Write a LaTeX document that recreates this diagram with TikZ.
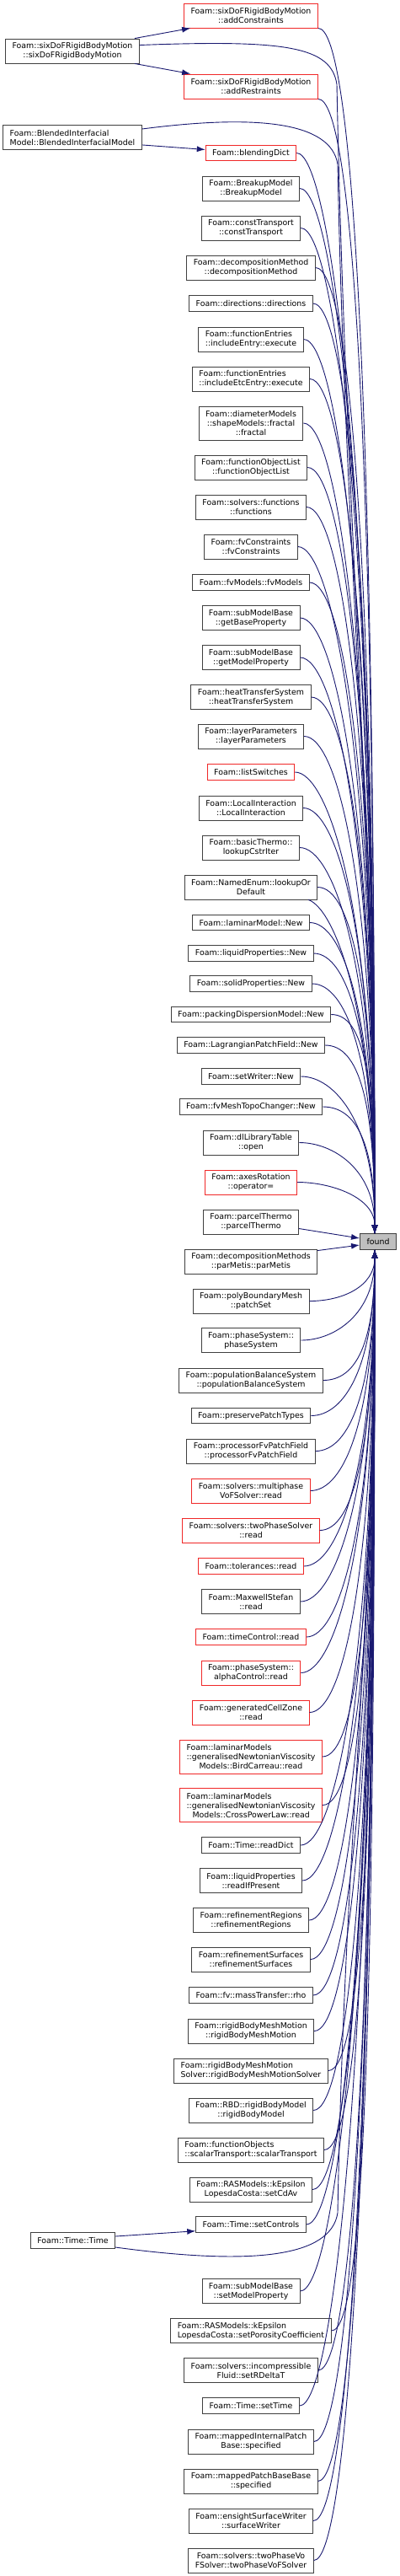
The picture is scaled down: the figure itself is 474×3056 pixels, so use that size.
\documentclass[tikz,border=0pt]{standalone}
\usepackage{fontspec}
\setmainfont{DejaVu Sans}
\usetikzlibrary{calc,arrows.meta}

\definecolor{edgeblue}{RGB}{25,25,112}
\definecolor{boxgray}{RGB}{64,64,64}
\definecolor{truncred}{RGB}{240,40,40}
\definecolor{foundgray}{RGB}{191,191,191}

\begin{document}
\begin{tikzpicture}[x=1pt,y=-1pt,
 fnbox/.style={draw=boxgray,line width=0.9pt,fill=white,inner xsep=8pt,inner ysep=1pt,minimum height=18.5pt,align=center,font=\fontsize{9.4}{11}\selectfont},
 fnbox2/.style={fnbox,minimum height=29pt},
 fnbox3/.style={fnbox,minimum height=40pt},
 trunc/.style={draw=truncred},
 lalign/.style={align=left},
 callarrow/.style={draw=edgeblue,line width=0.9pt,-{Latex[length=10pt,width=7pt]}}]

\useasboundingbox (0,0) rectangle (474,3056);

% callers on the left
\node[fnbox2] (ctor) at (86,60.5) {Foam::sixDoFRigidBodyMotion\\::sixDoFRigidBodyMotion};
\node[fnbox2,lalign] (blended) at (86,163) {Foam::BlendedInterfacial\\Model::BlendedInterfacialModel};
\node[fnbox] (time) at (86.5,2658) {Foam::Time::Time};

% the function itself
\node[fnbox,fill=foundgray] (found) at (449,1473) {found};
\coordinate (fN) at ([xshift=-4]found.north);
\coordinate (fS) at ([xshift=-4]found.south);

% direct callers
\node[fnbox2,trunc] (addc) at (298,18.5) {Foam::sixDoFRigidBodyMotion\\::addConstraints};
\node[fnbox2,trunc] (addr) at (298,102.5) {Foam::sixDoFRigidBodyMotion\\::addRestraints};
\node[fnbox,trunc] (bdict) at (298,181.5) {Foam::blendingDict};
\node[fnbox2] (breakup) at (298,223.5) {Foam::BreakupModel\\::BreakupModel};
\node[fnbox2] (consttr) at (298,270.5) {Foam::constTransport\\::constTransport};
\node[fnbox2] (decomp) at (298,317.5) {Foam::decompositionMethod\\::decompositionMethod};
\node[fnbox] (dirs) at (298,360) {Foam::directions::directions};
\node[fnbox2,lalign] (incl) at (298,402.5) {Foam::functionEntries\\::includeEntry::execute};
\node[fnbox2,lalign] (incletc) at (298,449.5) {Foam::functionEntries\\::includeEtcEntry::execute};
\node[fnbox3] (fractal) at (298,502) {Foam::diameterModels\\::shapeModels::fractal\\::fractal};
\node[fnbox2] (fol) at (298,554.5) {Foam::functionObjectList\\::functionObjectList};
\node[fnbox2] (funcs) at (298,601.5) {Foam::solvers::functions\\::functions};
\node[fnbox2] (fvc) at (298,648.5) {Foam::fvConstraints\\::fvConstraints};
\node[fnbox] (fvm) at (298,691) {Foam::fvModels::fvModels};
\node[fnbox2] (getbase) at (298,733) {Foam::subModelBase\\::getBaseProperty};
\node[fnbox2] (getmodel) at (298,780) {Foam::subModelBase\\::getModelProperty};
\node[fnbox2] (heat) at (298,827) {Foam::heatTransferSystem\\::heatTransferSystem};
\node[fnbox2] (layer) at (298,873.5) {Foam::layerParameters\\::layerParameters};
\node[fnbox,trunc] (lsw) at (298,916) {Foam::listSwitches};
\node[fnbox2] (local) at (298,958.5) {Foam::LocalInteraction\\::LocalInteraction};
\node[fnbox2] (cstr) at (298,1005.5) {Foam::basicThermo::\\lookupCstrIter};
\node[fnbox2] (named) at (298,1052.5) {Foam::NamedEnum::lookupOr\\Default};
\node[fnbox] (lamnew) at (298,1094.5) {Foam::laminarModel::New};
\node[fnbox] (liqnew) at (298,1131) {Foam::liquidProperties::New};
\node[fnbox] (solnew) at (298,1167) {Foam::solidProperties::New};
\node[fnbox] (packnew) at (298,1203.5) {Foam::packingDispersionModel::New};
\node[fnbox] (lagnew) at (298,1240) {Foam::LagrangianPatchField::New};
\node[fnbox] (setwnew) at (298,1277) {Foam::setWriter::New};
\node[fnbox] (topo) at (298,1313) {Foam::fvMeshTopoChanger::New};
\node[fnbox2] (dlopen) at (298,1355.5) {Foam::dlLibraryTable\\::open};
\node[fnbox2,trunc] (axes) at (298,1402.5) {Foam::axesRotation\\::operator=};
\node[fnbox2] (parcel) at (298,1449.5) {Foam::parcelThermo\\::parcelThermo};
\node[fnbox2] (parmetis) at (298,1496.5) {Foam::decompositionMethods\\::parMetis::parMetis};
\node[fnbox2] (patchset) at (298,1543.5) {Foam::polyBoundaryMesh\\::patchSet};
\node[fnbox2] (phasesys) at (298,1590) {Foam::phaseSystem::\\phaseSystem};
\node[fnbox2] (popbal) at (298,1637.5) {Foam::populationBalanceSystem\\::populationBalanceSystem};
\node[fnbox] (preserve) at (298,1679.5) {Foam::preservePatchTypes};
\node[fnbox2] (procfv) at (298,1721.5) {Foam::processorFvPatchField\\::processorFvPatchField};
\node[fnbox2,trunc] (mpread) at (298,1768.5) {Foam::solvers::multiphase\\VoFSolver::read};
\node[fnbox2,trunc] (tpread) at (298,1815.5) {Foam::solvers::twoPhaseSolver\\::read};
\node[fnbox,trunc] (tolread) at (298,1858) {Foam::tolerances::read};
\node[fnbox2] (msread) at (298,1900) {Foam::MaxwellStefan\\::read};
\node[fnbox,trunc] (tcread) at (298,1942) {Foam::timeControl::read};
\node[fnbox2,trunc] (acread) at (298,1984.5) {Foam::phaseSystem::\\alphaControl::read};
\node[fnbox2,trunc] (gczread) at (298,2031.5) {Foam::generatedCellZone\\::read};
\node[fnbox3,trunc,lalign] (bcread) at (298,2084) {Foam::laminarModels\\::generalisedNewtonianViscosity\\\hspace*{15pt}Models::BirdCarreau::read};
\node[fnbox3,trunc,lalign] (cplread) at (298,2141.5) {Foam::laminarModels\\::generalisedNewtonianViscosity\\\hspace*{7pt}Models::CrossPowerLaw::read};
\node[fnbox] (readdict) at (298,2189) {Foam::Time::readDict};
\node[fnbox2] (rip) at (298,2231) {Foam::liquidProperties\\::readIfPresent};
\node[fnbox2] (refreg) at (298,2278) {Foam::refinementRegions\\::refinementRegions};
\node[fnbox2] (refsurf) at (298,2324.5) {Foam::refinementSurfaces\\::refinementSurfaces};
\node[fnbox] (rho) at (298,2367) {Foam::fv::massTransfer::rho};
\node[fnbox2] (rbmm) at (298,2409.5) {Foam::rigidBodyMeshMotion\\::rigidBodyMeshMotion};
\node[fnbox2,lalign] (rbmms) at (298,2456.5) {Foam::rigidBodyMeshMotion\\Solver::rigidBodyMeshMotionSolver};
\node[fnbox2] (rbd) at (298,2503.5) {Foam::RBD::rigidBodyModel\\::rigidBodyModel};
\node[fnbox2,lalign] (scalar) at (298,2550.5) {Foam::functionObjects\\::scalarTransport::scalarTransport};
\node[fnbox2] (cdav) at (298,2597.5) {Foam::RASModels::kEpsilon\\LopesdaCosta::setCdAv};
\node[fnbox] (setc) at (298,2639) {Foam::Time::setControls};
\node[fnbox2] (setmodel) at (298,2718) {Foam::subModelBase\\::setModelProperty};
\node[fnbox2,lalign] (poros) at (298,2765) {Foam::RASModels::kEpsilon\\LopesdaCosta::setPorosityCoefficient};
\node[fnbox2] (rdeltat) at (298,2812) {Foam::solvers::incompressible\\Fluid::setRDeltaT};
\node[fnbox] (settime) at (298,2854) {Foam::Time::setTime};
\node[fnbox2] (mips) at (298,2896.5) {Foam::mappedInternalPatch\\Base::specified};
\node[fnbox2] (mpbb) at (298,2943.5) {Foam::mappedPatchBaseBase\\::specified};
\node[fnbox2] (ensight) at (298,2990.5) {Foam::ensightSurfaceWriter\\::surfaceWriter};
\node[fnbox2] (tpvof) at (298,3037.5) {Foam::solvers::twoPhaseVo\\FSolver::twoPhaseVoFSolver};

% calls from the left column
\draw[callarrow] ([xshift=-6]ctor.north east) -- ([xshift=8]addc.south west);
\draw[callarrow] ([xshift=-6]ctor.south east) -- ([xshift=8]addr.north west);
\draw[callarrow] ([yshift=6]blended.south east) -- ([yshift=4]bdict.west);
\draw[callarrow] ([yshift=5]time.east) -- ([yshift=2]setc.south west);
\draw[callarrow] ([yshift=7]ctor.east) .. controls (340,47) and (393,55) .. (400,100) .. controls (410,600) and (445,1000) .. (fN);
\draw[callarrow] ([yshift=10]blended.east) .. controls (300,136) and (393,143) .. (401,195) .. controls (410,650) and (445,1000) .. (fN);
\draw[callarrow] ([yshift=-8]time.east) .. controls (300,2688) and (393,2678) .. (401,2625) .. controls (410,2150) and (445,1950) .. (fS);

% calls into found from above
\draw[callarrow] (addc.south east) .. controls +(40,0) and +(0,-1012) .. (fN);
\draw[callarrow] (addr.south east) .. controls +(40,0) and +(0,-953) .. (fN);
\draw[callarrow] (bdict.east) .. controls +(40,0) and +(0,-898) .. (fN);
\draw[callarrow] (breakup.east) .. controls +(40,0) and +(0,-868) .. (fN);
\draw[callarrow] (consttr.east) .. controls +(40,0) and +(0,-835) .. (fN);
\draw[callarrow] (decomp.east) .. controls +(40,0) and +(0,-803) .. (fN);
\draw[callarrow] (dirs.east) .. controls +(40,0) and +(0,-773) .. (fN);
\draw[callarrow] (incl.east) .. controls +(40,0) and +(0,-743) .. (fN);
\draw[callarrow] (incletc.east) .. controls +(40,0) and +(0,-710) .. (fN);
\draw[callarrow] (fractal.east) .. controls +(40,0) and +(0,-673) .. (fN);
\draw[callarrow] (fol.east) .. controls +(40,0) and +(0,-637) .. (fN);
\draw[callarrow] (funcs.east) .. controls +(40,0) and +(0,-604) .. (fN);
\draw[callarrow] (fvc.east) .. controls +(40,0) and +(0,-571) .. (fN);
\draw[callarrow] (fvm.east) .. controls +(40,0) and +(0,-541) .. (fN);
\draw[callarrow] (getbase.east) .. controls +(40,0) and +(0,-512) .. (fN);
\draw[callarrow] (getmodel.east) .. controls +(40,0) and +(0,-479) .. (fN);
\draw[callarrow] (heat.east) .. controls +(40,0) and +(0,-446) .. (fN);
\draw[callarrow] (layer.east) .. controls +(40,0) and +(0,-413) .. (fN);
\draw[callarrow] (lsw.east) .. controls +(40,0) and +(0,-384) .. (fN);
\draw[callarrow] (local.east) .. controls +(40,0) and +(0,-354) .. (fN);
\draw[callarrow] (cstr.east) .. controls +(40,0) and +(0,-321) .. (fN);
\draw[callarrow] (named.east) .. controls +(40,0) and +(0,-288) .. (fN);
\draw[callarrow] ([xshift=-11]named.south east) .. controls +(30,10) and +(0,-270) .. (fN);
\draw[callarrow] (lamnew.east) .. controls +(40,0) and +(0,-259) .. (fN);
\draw[callarrow] (liqnew.east) .. controls +(40,0) and +(0,-233) .. (fN);
\draw[callarrow] (solnew.east) .. controls +(40,0) and +(0,-208) .. (fN);
\draw[callarrow] (packnew.east) .. controls +(40,0) and +(0,-182) .. (fN);
\draw[callarrow] (lagnew.east) .. controls +(40,0) and +(0,-157) .. (fN);
\draw[callarrow] (setwnew.east) .. controls +(40,0) and +(0,-131) .. (fN);
\draw[callarrow] (topo.east) .. controls +(40,0) and +(0,-106) .. (fN);
\draw[callarrow] (dlopen.east) .. controls +(40,0) and +(0,-76) .. (fN);
\draw[callarrow] (axes.east) .. controls +(40,0) and +(0,-43) .. (fN);

% from the side
\draw[callarrow] ([yshift=-8]parcel.east) -- ([yshift=4]found.west);
\draw[callarrow] ([yshift=-2]parmetis.north east) -- ([yshift=-4]found.west);

% calls into found from below
\draw[callarrow] (patchset.east) .. controls +(40,0) and +(0,43) .. (fS);
\draw[callarrow] (phasesys.east) .. controls +(40,0) and +(0,76) .. (fS);
\draw[callarrow] (popbal.east) .. controls +(40,0) and +(0,109) .. (fS);
\draw[callarrow] (preserve.east) .. controls +(40,0) and +(0,138) .. (fS);
\draw[callarrow] (procfv.east) .. controls +(40,0) and +(0,168) .. (fS);
\draw[callarrow] (mpread.east) .. controls +(40,0) and +(0,201) .. (fS);
\draw[callarrow] (tpread.east) .. controls +(40,0) and +(0,233) .. (fS);
\draw[callarrow] (tolread.east) .. controls +(40,0) and +(0,263) .. (fS);
\draw[callarrow] (msread.east) .. controls +(40,0) and +(0,293) .. (fS);
\draw[callarrow] (tcread.east) .. controls +(40,0) and +(0,322) .. (fS);
\draw[callarrow] (acread.east) .. controls +(40,0) and +(0,352) .. (fS);
\draw[callarrow] (gczread.east) .. controls +(40,0) and +(0,385) .. (fS);
\draw[callarrow] (bcread.east) .. controls +(40,0) and +(0,421) .. (fS);
\draw[callarrow] (cplread.east) .. controls +(40,0) and +(0,462) .. (fS);
\draw[callarrow] (readdict.east) .. controls +(40,0) and +(0,495) .. (fS);
\draw[callarrow] (rip.east) .. controls +(40,0) and +(0,524) .. (fS);
\draw[callarrow] (refreg.east) .. controls +(40,0) and +(0,557) .. (fS);
\draw[callarrow] (refsurf.east) .. controls +(40,0) and +(0,590) .. (fS);
\draw[callarrow] (rho.east) .. controls +(40,0) and +(0,620) .. (fS);
\draw[callarrow] (rbmm.east) .. controls +(40,0) and +(0,649) .. (fS);
\draw[callarrow] (rbmms.east) .. controls +(40,0) and +(0,682) .. (fS);
\draw[callarrow] (rbd.east) .. controls +(40,0) and +(0,715) .. (fS);
\draw[callarrow] (scalar.east) .. controls +(40,0) and +(0,748) .. (fS);
\draw[callarrow] (cdav.east) .. controls +(40,0) and +(0,781) .. (fS);
\draw[callarrow] (setc.east) .. controls +(40,0) and +(0,810) .. (fS);
\draw[callarrow] (setmodel.east) .. controls +(40,0) and +(0,865) .. (fS);
\draw[callarrow] (poros.east) .. controls +(40,0) and +(0,898) .. (fS);
\draw[callarrow] (rdeltat.east) .. controls +(40,0) and +(0,931) .. (fS);
\draw[callarrow] (settime.east) .. controls +(40,0) and +(0,960) .. (fS);
\draw[callarrow] (mips.east) .. controls +(40,0) and +(0,990) .. (fS);
\draw[callarrow] (mpbb.east) .. controls +(40,0) and +(0,1023) .. (fS);
\draw[callarrow] (ensight.east) .. controls +(40,0) and +(0,1056) .. (fS);
\draw[callarrow] (tpvof.east) .. controls +(40,0) and +(0,1089) .. (fS);

\end{tikzpicture}
\end{document}
